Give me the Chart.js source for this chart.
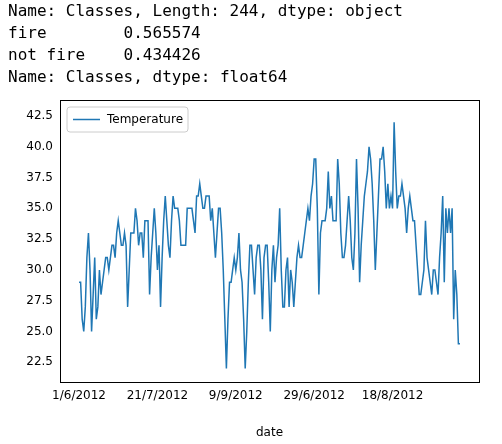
<!DOCTYPE html>
<html>
<head>
<meta charset="utf-8">
<script src="https://cdn.jsdelivr.net/npm/chart.js@4"></script>
<style>
  body { margin: 0; background: #fff; }
  #out { position: absolute; left: 8px; top: 0; font: 16px "DejaVu Sans Mono", monospace; line-height: 22px; white-space: pre; color: #000; }
  #wrap { position: absolute; left: 0; top: 0; width: 502px; height: 444px; }
</style>
</head>
<body>
<div id="wrap"><canvas id="chart"></canvas></div>
<div id="out">Name: Classes, Length: 244, dtype: object
fire        0.565574
not fire    0.434426
Name: Classes, dtype: float64</div>
<script>
// Temperature, 244 rows (two regions, 1/6 - 30/9/2012 each)
var temperature = [
  29,29,26,25,27,31,33,30,25,28,
  31,26,27,30,28,29,30,31,31,30,
  31,32,32,31,33,34,33,32,32,33,
  32,27,30,33,33,33,35,34,32,33,
  33,31,34,34,34,28,31,33,35,33,
  30,32,27,31,34,36,34,32,31,34,
  36,35,35,35,34,32,32,32,32,35,
  35,35,35,34,33,36,36,37,36,35,
  35,36,36,36,34,35,33,31,33,35,
  35,33,30,26,22,26,29,29,30,31,
  30,31,33,30,29,26,22,25,29,32,
  32,30,28,31,32,32,30,26,31,32,
  32,29,25,30,32,29,31,32,35,30,
  27,27,30,31,27,30,29,27,29,31,
  32,31,31,32,33,34,35,34,36,37,
  39,39,35,28,33,34,34,34,35,38,
  35,36,34,34,34,39,37,33,31,31,
  32,34,36,34,31,30,33,39,35,29,
  32,34,36,37,38,40,39,37,34,30,
  33,36,39,39,40,38,35,37,35,36,
  35,42,38,35,36,36,37,36,35,33,
  35,36,35,34,34,32,30,28,28,29,
  30,34,31,30,29,28,30,30,29,28,
  31,33,36,29,35,33,35,33,35,26,
  30,28,24,24
];
var xTicks = [0, 50, 100, 150, 200, 250];
var xTickLabels = ["1/6/2012", "21/7/2012", "9/9/2012", "29/6/2012", "18/8/2012", ""];
var yTicks = [22.5, 25.0, 27.5, 30.0, 32.5, 35.0, 37.5, 40.0, 42.5];

var points = temperature.map(function (v, i) { return { x: i, y: v }; });

var frame = {
  id: "frame",
  afterDraw: function (chart) {
    var a = chart.chartArea, ctx = chart.ctx;
    ctx.save();
    ctx.strokeStyle = "#000";
    ctx.lineWidth = 1;
    ctx.strokeRect(a.left + 0.5, a.top + 0.5, a.right - a.left, a.bottom - a.top);
    // legend box
    var lx = a.left + 7, ly = a.top + 7;
    ctx.fillStyle = "rgba(255,255,255,0.8)";
    ctx.strokeStyle = "#ccc";
    ctx.beginPath();
    ctx.roundRect(lx, ly, 121, 25, 3);
    ctx.fill();
    ctx.stroke();
    ctx.strokeStyle = "#1f77b4";
    ctx.lineWidth = 1.5;
    ctx.beginPath();
    ctx.moveTo(lx + 6, ly + 12.5);
    ctx.lineTo(lx + 33, ly + 12.5);
    ctx.stroke();
    ctx.fillStyle = "#000";
    ctx.font = "12px 'DejaVu Sans'";
    ctx.textBaseline = "middle";
    ctx.fillText("Temperature", lx + 40, ly + 13);
    ctx.restore();
  }
};

new Chart(document.getElementById("chart"), {
  type: "line",
  data: {
    datasets: [{
      label: "Temperature",
      data: points,
      borderColor: "#1f77b4",
      borderWidth: 1.5,
      pointRadius: 0,
      tension: 0
    }]
  },
  options: {
    responsive: true,
    maintainAspectRatio: false,
    animation: false,
    layout: { padding: { top: 100, right: 23, left: 0, bottom: 0 } },
    plugins: { legend: { display: false }, tooltip: { enabled: false } },
    scales: {
      x: {
        type: "linear",
        min: -12.15,
        max: 255.15,
        grid: { display: false, drawTicks: true, tickLength: 4, tickColor: "#000" },
        border: { display: false },
        afterBuildTicks: function (axis) { axis.ticks = xTicks.map(function (v) { return { value: v }; }); },
        afterFit: function (axis) { axis.height = 62; },
        ticks: {
          color: "#000",
          font: { family: "DejaVu Sans", size: 12 },
          maxRotation: 0,
          autoSkip: false,
          callback: function (v) { return xTickLabels[xTicks.indexOf(v)]; }
        },
        title: { display: true, text: "date", color: "#000", font: { family: "DejaVu Sans", size: 12 }, padding: { top: 2 } }
      },
      y: {
        min: 20.9,
        max: 43.8,
        grid: { display: false, drawTicks: true, tickLength: 4, tickColor: "#000" },
        border: { display: false },
        afterBuildTicks: function (axis) { axis.ticks = yTicks.map(function (v) { return { value: v }; }); },
        afterFit: function (axis) { axis.width = 60; },
        ticks: {
          color: "#000",
          font: { family: "DejaVu Sans", size: 12 },
          callback: function (v) { return v.toFixed(1); }
        }
      }
    }
  },
  plugins: [frame]
});
</script>
</body>
</html>
